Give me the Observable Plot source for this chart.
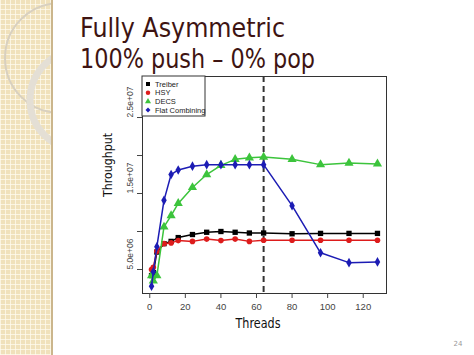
<!DOCTYPE html>
<html><head><meta charset="utf-8">
<script src="https://cdn.jsdelivr.net/npm/d3@7"></script>
<script src="https://cdn.jsdelivr.net/npm/@observablehq/plot@0.6"></script>
<style>
html,body{margin:0;padding:0;background:#fff;width:474px;height:355px;overflow:hidden;}
#strip{position:absolute;left:0;top:0;width:51px;height:355px;background-color:#f0e1bb;
 background-image:repeating-linear-gradient(90deg, rgba(255,251,238,0.75) 0 1px, transparent 1px 5px), repeating-linear-gradient(0deg, rgba(255,251,238,0.75) 0 1px, transparent 1px 5px);
 border-right:2px solid #cbb68c; overflow:hidden;}
#deco{position:absolute;left:0;top:0;}
#chart{position:absolute;left:60px;top:70px;}
</style>
</head><body>
<div id="strip"><svg width="51" height="355"><circle cx="60" cy="58" r="55" fill="none" stroke="#d8d0c0" stroke-width="2"/><circle cx="80" cy="100" r="50" fill="none" stroke="#e4dfd5" stroke-width="7"/></svg></div>
<svg id="deco" width="474" height="355" font-family="'DejaVu Sans', sans-serif">
  <text x="80" y="37" font-size="26" fill="#3e1412" textLength="205" lengthAdjust="spacingAndGlyphs">Fully Asymmetric</text>
  <text x="80" y="68" font-size="26" fill="#3e1412" textLength="235" lengthAdjust="spacingAndGlyphs">100% push – 0% pop</text>
  <text transform="translate(112,165) rotate(-90)" text-anchor="middle" font-size="13" fill="#111" textLength="64" lengthAdjust="spacingAndGlyphs">Throughput</text>
  <text x="258" y="328" text-anchor="middle" font-size="14" fill="#111" textLength="45" lengthAdjust="spacingAndGlyphs">Threads</text>
  <text x="458" y="346" text-anchor="middle" font-size="7" fill="#999">24</text>
</svg>
<div id="chart"></div>
<script>
const threads = [1, 2, 4, 8, 12, 16, 24, 32, 40, 48, 56, 64, 80, 96, 112, 128];
const seriesNames = ["Treiber", "HSY", "DECS", "Flat Combining"];
const treiber = [4.2, 4.6, 7.3, 8.4, 8.7, 9.2, 9.6, 9.9, 10.0, 9.9, 9.8, 9.8, 9.7, 9.75, 9.75, 9.75];
const hsy = [5.0, 5.3, 7.4, 8.4, 8.5, 8.8, 8.7, 9.0, 8.8, 9.0, 8.7, 8.85, 8.85, 8.85, 8.85, 8.85];
const decs = [4.2, 3.5, 4.2, 10.6, 12.1, 13.7, 15.8, 17.5, 18.7, 19.5, 19.7, 19.8, 19.5, 18.8, 19.0, 18.9];
const flatCombining = [2.8, 4.7, 8.0, 14.1, 17.5, 18.1, 18.6, 18.8, 18.8, 18.8, 18.8, 18.8, 13.4, 7.2, 5.9, 6.0];
const xTicks = [0, 20, 40, 60, 80, 100, 120];
const yTicks = [5e6, 1e7, 1.5e7, 2e7, 2.5e7];
const yTickLabels = ["5.0e+06", "", "1.5e+07", "", "2.5e+07"];
const marker = 64;

const colors = ["#000000", "#dd1c1c", "#3cc43c", "#1c1cb4"];
const symbols = ["square", "circle", "triangle", "diamond"];
const radii = [3.0, 2.8, 3.4, 2.9];
const values = [treiber, hsy, decs, flatCombining];

const rows = seriesNames.flatMap((s, i) => threads.map((t, j) => ({series: s, threads: t, value: values[i][j] * 1e6})));
const yLabelRows = yTicks.map((v, i) => ({v, label: yTickLabels[i]})).filter(d => d.label);

const font = "'Liberation Sans', Arial, sans-serif";
const marks = [
  Plot.frame({stroke: "#333", strokeWidth: 1}),
  Plot.axisX({ticks: xTicks, tickSize: 5, tickPadding: 5, fontSize: 9.5, fontFamily: font, color: "#444", label: null}),
  Plot.axisY({ticks: yTicks, tickSize: 5, tickFormat: () => "", label: null, color: "#444"}),
  Plot.text(yLabelRows, {y: "v", text: "label", frameAnchor: "left", dx: -12, rotate: -90, fontSize: 8.5, fontFamily: font, fill: "#444"}),
  Plot.ruleX([marker], {stroke: "#333", strokeWidth: 2, strokeDasharray: "6,4"})
];
seriesNames.forEach((s, i) => {
  const d = rows.filter(r => r.series === s);
  marks.push(Plot.line(d, {x: "threads", y: "value", stroke: colors[i], strokeWidth: 1.5}));
  marks.push(Plot.dot(d, {x: "threads", y: "value", fill: colors[i], stroke: "none", symbol: () => symbols[i], r: radii[i]}));
});

const plot = Plot.plot({
  width: 340, height: 275,
  marginLeft: 82, marginRight: 14, marginTop: 6, marginBottom: 52,
  x: {domain: [-4.08, 133.08]},
  y: {domain: [1.84e6, 30.4e6]},
  symbol: {type: "identity"},
  style: {background: "transparent", overflow: "visible"},
  marks
});
document.getElementById("chart").appendChild(plot);

// legend box in top-left of frame
const svg = d3.select(plot);
const lg = svg.append("g").attr("transform", "translate(82,6)").attr("text-anchor", "start");
lg.append("rect").attr("x", 0).attr("y", 0).attr("width", 63).attr("height", 40).attr("fill", "#fff").attr("stroke", "#333").attr("stroke-width", 1);
const lsym = [d3.symbolSquare, d3.symbolCircle, d3.symbolTriangle, d3.symbolDiamond2];
seriesNames.forEach((s, i) => {
  const y = 8 + i * 8.7;
  lg.append("path").attr("d", d3.symbol(lsym[i], 16)()).attr("transform", `translate(6,${y})`).attr("fill", colors[i]);
  lg.append("text").attr("x", 13).attr("y", y).attr("dy", "0.35em").attr("text-anchor", "start").attr("font-size", 7.5).attr("font-family", font).attr("fill", "#222").text(s);
});
</script>
</body></html>
